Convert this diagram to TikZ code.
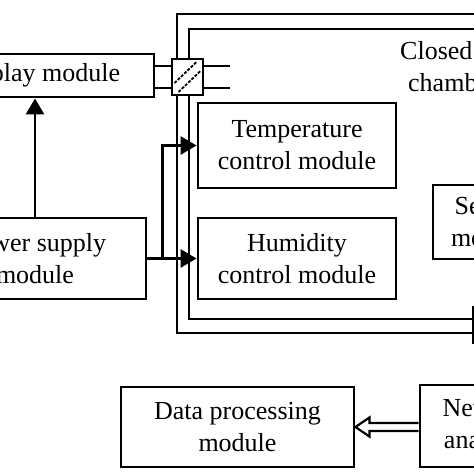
\documentclass[tikz,border=0pt]{standalone}
\usepackage{fontspec}
\setmainfont{Liberation Serif}
\usetikzlibrary{arrows.meta,calc}
\begin{document}
\begin{tikzpicture}[x=1pt,y=-1pt,
  ln/.style={line width=2.9pt},
  box/.style={draw, ln, fill=white, inner sep=0pt, align=center,
    font=\fontsize{26}{32}\selectfont},
  sqbox/.style={draw, ln, fill=white, inner sep=0pt, minimum width=31pt, minimum height=36pt},
  hatch/.style={line width=1.8pt, dash pattern=on 3pt off 1.5pt},
  arr/.style={ln, -{Triangle[length=16pt,width=18pt]}},
  hollow/.style={line width=2.2pt, line join=miter},
  txt/.style={inner sep=0pt, align=left, font=\fontsize{26}{32}\selectfont}
]
\useasboundingbox (0,0) rectangle (474,474);

% closed chamber double outline
\coordinate (otl) at (177,14);
\coordinate (obl) at (177,333);
\coordinate (itl) at (189,29);
\coordinate (ibl) at (189,319);
\coordinate (otr) at (490,14);
\coordinate (itr) at (490,29);

% connector squares
\node[sqbox] (sq1) at (187.5,77) {};
\node[sqbox] (sq2) at (488.5,325) {};

\draw[ln] (otr) -- (otl) -- (obl) -- (obl -| sq2.west);
\draw[ln] (itr) -- (itl) -- (ibl) -- (ibl -| sq2.west);

% redraw squares on top
\node[sqbox] at (sq1) {};
\node[sqbox] at (sq2) {};
\draw[hatch] ($(sq1)+(-13,6)$) -- ($(sq1)+(9,-15)$);
\draw[hatch] ($(sq1)+(-9,15)$) -- ($(sq1)+(13,-6)$);
\draw[hatch] ($(sq2)+(-13,6)$) -- ($(sq2)+(9,-15)$);
\draw[hatch] ($(sq2)+(-9,15)$) -- ($(sq2)+(13,-6)$);

\node[txt] (closed) at (400,67) [anchor=west] {Closed\\\hspace*{8pt}chamber};

% modules
\node[box, minimum width=233pt, minimum height=43pt] (disp) at (37.5,75.5) {Display module};
\node[box, minimum width=198pt, minimum height=85pt] (temp) at (297,145.5) {Temperature\\control module};
\node[box, minimum width=198pt, minimum height=81pt] (hum) at (297,258.5) {Humidity\\control module};
\node[box, minimum width=222pt, minimum height=81pt] (power) at (35,258.5) {Power supply\\module};
\node[box, minimum width=114pt, minimum height=74pt] (sens) at (490,222) {Sensor\\module};
\node[box, minimum width=233pt, minimum height=80pt] (dp) at (237.5,427) {Data processing\\module};
\node[box, minimum width=136pt, minimum height=82pt] (na) at (488,426) {Network\\analyzer};

% display to connector square
\coordinate (a1) at ($(sq1.west)+(0,-11)$);
\coordinate (a2) at ($(sq1.west)+(0,11)$);
\draw[ln] (a1) -- (a1 -| disp.east);
\draw[ln] (a2) -- (a2 -| disp.east);
\coordinate (b1) at ($(sq1.east)+(26,-11)$);
\coordinate (b2) at ($(sq1.east)+(26,11)$);
\draw[ln] (sq1.east |- b1) -- (b1);
\draw[ln] (sq1.east |- b2) -- (b2);

% power connections
\draw[arr] (power.north) -- (power.north |- disp.south);
\draw[arr] (power.east) -- (hum.west);
\coordinate (j) at ($(power.east)+(15,0)$);
\draw[arr] (j) |- (temp.west);

% hollow arrow network analyzer -> data processing
\draw[hollow] ($(na.west |- dp.east)+(0,-4)$) -- ($(dp.east)+(14,-4)$)
  -- ($(dp.east)+(14,-9.5)$) -- (dp.east) -- ($(dp.east)+(14,9.5)$)
  -- ($(dp.east)+(14,4)$) -- ($(na.west |- dp.east)+(0,4)$);
\end{tikzpicture}
\end{document}
